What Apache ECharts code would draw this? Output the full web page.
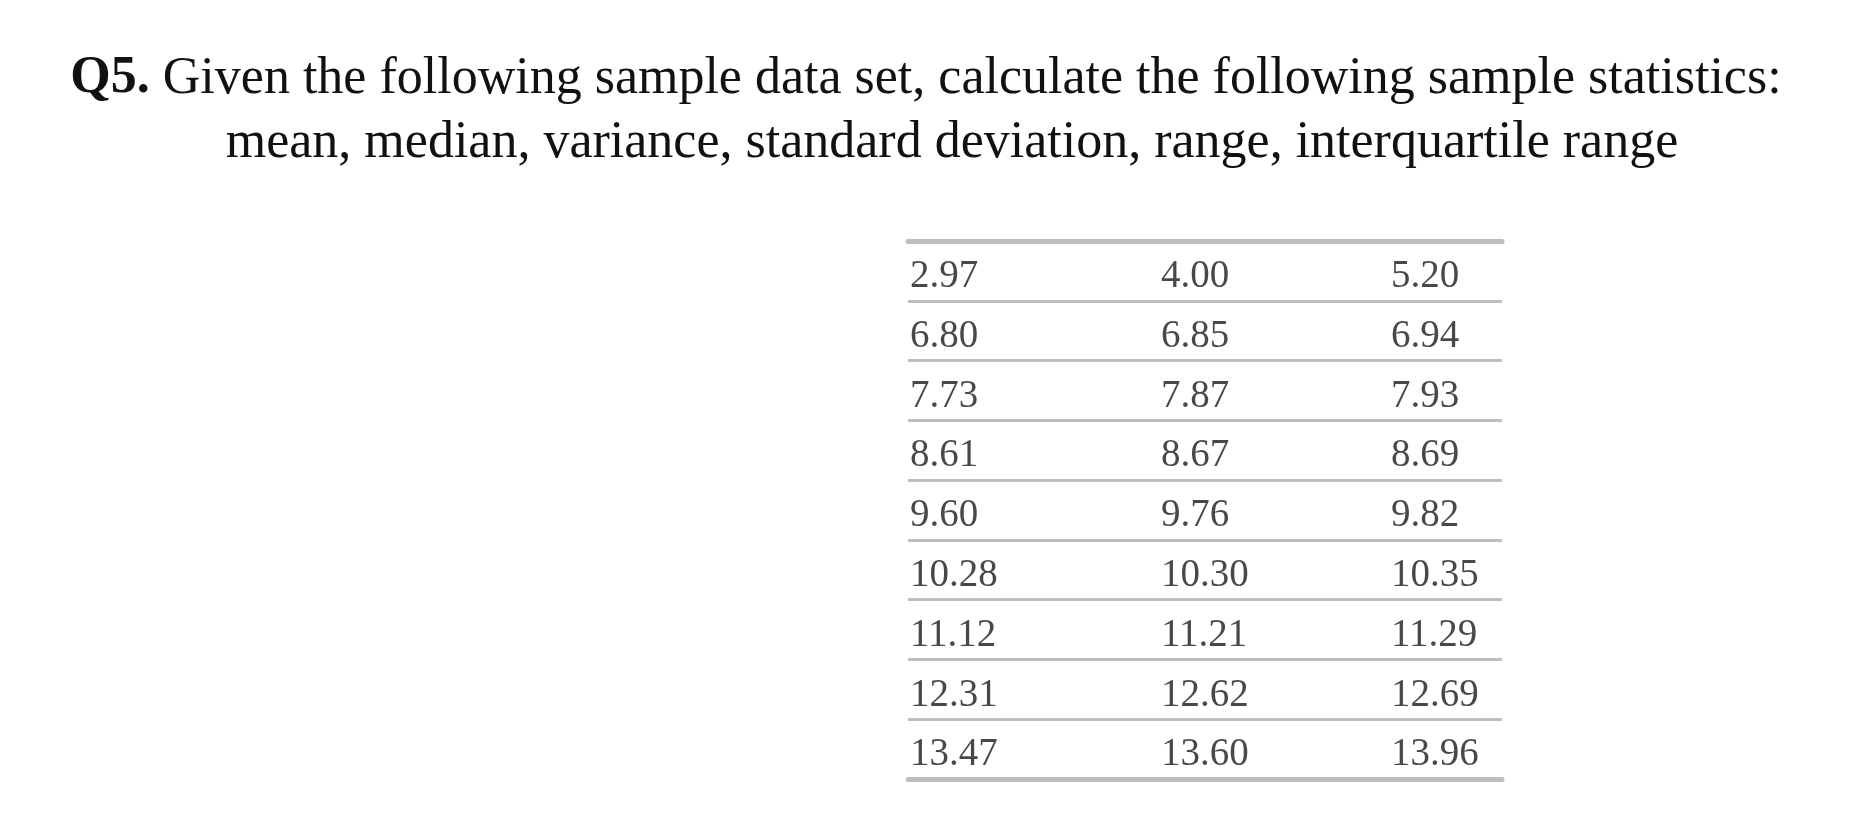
<!DOCTYPE html>
<html lang="en">
<head>
    <meta charset="UTF-8">
    <title>Q5 sample data</title>
    <script src="https://cdn.jsdelivr.net/npm/echarts@6/dist/echarts.min.js"></script>
    <style>
        html, body { margin: 0; background: #fff; }
        #main { width: 1861px; height: 840px; }
    </style>
</head>
<body>
    <div id="main"></div>
    <script>
        // 数据
        var rows = ['r1', 'r2', 'r3', 'r4', 'r5', 'r6', 'r7', 'r8', 'r9'];
        var cols = ['c1', 'c2', 'c3'];
        var col1 = ['2.97', '6.80', '7.73', '8.61', '9.60', '10.28', '11.12', '12.31', '13.47'];
        var col2 = ['4.00', '6.85', '7.87', '8.67', '9.76', '10.30', '11.21', '12.62', '13.60'];
        var col3 = ['5.20', '6.94', '7.93', '8.69', '9.82', '10.35', '11.29', '12.69', '13.96'];

        var myChart = echarts.init(document.getElementById('main'));
        var font = '"Liberation Serif", "DejaVu Serif", serif';

        function colSeries(name, values, offsetX) {
            return {
                name: name,
                type: 'scatter',
                symbolSize: 0,
                silent: true,
                data: values.map(function (v, i) { return [name, rows[i], v]; }),
                label: {
                    show: true,
                    position: 'inside',
                    align: 'left',
                    offset: [offsetX, 6],
                    formatter: function (p) { return p.value[2]; },
                    fontFamily: font,
                    fontSize: 39,
                    color: '#1a1a1a'
                }
            };
        }

        var option = {
            animation: false,
            title: [{
                text: '{b|Q5.} Given the following sample data set, calculate the following sample statistics:',
                left: 921, top: 48, textAlign: 'center',
                textStyle: {
                    fontFamily: font, fontSize: 52, fontWeight: 'normal', color: '#111',
                    rich: { b: { fontFamily: font, fontSize: 52, fontWeight: 'bold', color: '#111' } }
                }
            }, {
                text: 'mean, median, variance, standard deviation, range, interquartile range',
                left: 947, top: 112, textAlign: 'center',
                textStyle: { fontFamily: font, fontSize: 52, fontWeight: 'normal', color: '#111' }
            }],
            grid: { left: 908, right: 359, top: 241, bottom: 61 },
            xAxis: [{
                type: 'category', data: cols, position: 'bottom',
                axisLine: { show: true, lineStyle: { color: '#bdbdbd', width: 5 } },
                axisTick: { show: false }, axisLabel: { show: false }
            }, {
                type: 'category', data: cols, position: 'top',
                axisLine: { show: true, lineStyle: { color: '#bdbdbd', width: 5 } },
                axisTick: { show: false }, axisLabel: { show: false }
            }],
            yAxis: {
                type: 'category', data: rows, inverse: true,
                axisLine: { show: false }, axisTick: { show: false }, axisLabel: { show: false },
                splitLine: { show: true, lineStyle: { color: '#bfbfbf', width: 3 } }
            },
            series: [
                colSeries('c1', col1, -97),
                colSeries('c2', col2, -44),
                colSeries('c3', col3, -12)
            ]
        };

        myChart.setOption(option);
    </script>
</body>
</html>
